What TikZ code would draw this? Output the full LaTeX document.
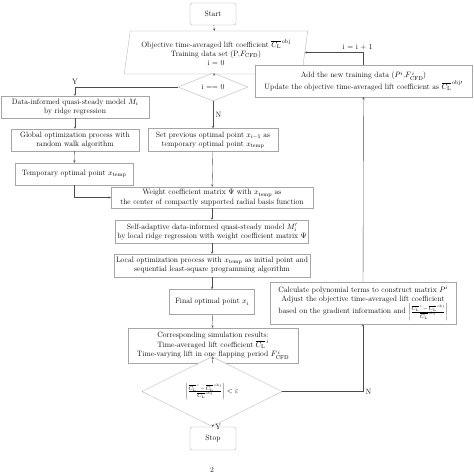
\documentclass[tikz,border=0pt]{standalone}
\usetikzlibrary{shapes.geometric}
\newcommand{\clbar}[1]{\overline{C_{\mathrm{L}}}^{#1}}
\begin{document}
\begin{tikzpicture}[x=0.5mm, y=-0.5mm, >=stealth,
  every node/.style={font=\fontsize{11}{13}\selectfont},
  box/.style={draw=gray!70, fill=white, align=center, inner sep=2.5pt},
  term/.style={box, rounded corners=3pt},
  ask/.style={box, diamond, inner sep=0pt},
  line/.style={->, draw=black!70, line width=0.5pt}]
  \useasboundingbox (0,0) rectangle (474,476);
  \node[term,minimum width=23mm,minimum height=11mm] (start) at (213,14) {Start};
  \node[box,trapezium,trapezium left angle=80,trapezium right angle=100,trapezium stretches=true,minimum width=92mm,minimum height=21.5mm] (input) at (216,52.5) {Objective time-averaged lift coefficient $\clbar{\,\mathrm{obj}}$\\ Training data set (P,$F_{\mathrm{CFD}}$)\\ i = 0};
  \node[ask,minimum width=35mm,minimum height=11mm] (first) at (213,87) {i == 0};
  \node[box,minimum width=74mm,minimum height=11mm] (model) at (75,107) {Data-informed quasi-steady model $M_i$\\ by ridge regression};
  \node[box,minimum width=64mm,minimum height=11mm] (global) at (75,140) {Global optimization process with\\ random walk algorithm};
  \node[box,minimum width=59mm,minimum height=11mm] (temp) at (74,174) {Temporary optimal point $x_{\mathrm{temp}}$};
  \node[box,minimum width=65mm,minimum height=11.5mm] (prev) at (213,140) {Set previous optimal point $x_{i-1}$ as\\ temporary optimal point $x_{\mathrm{temp}}$};
  \node[box,minimum width=101mm,minimum height=10.5mm] (weight) at (212,197.5) {Weight coefficient matrix $\Psi$ with $x_{\mathrm{temp}}$ as\\ the center of compactly supported radial basis function};
  \node[box,minimum width=95mm,minimum height=11.5mm] (adapt) at (212,231.5) {Self-adaptive data-informed quasi-steady model $M_i'$\\ by local ridge regression with weight coefficient matrix $\Psi$};
  \node[box,minimum width=96mm,minimum height=11.5mm] (local) at (212,265.5) {Local optimization process with $x_{\mathrm{temp}}$ as initial point and\\ sequential least-square programming algorithm};
  \node[box,minimum width=42.5mm,minimum height=12.5mm] (final) at (212,302) {Final optimal point $x_i$};
  \node[box,minimum width=85mm,minimum height=17.5mm] (sim) at (213,345.5) {Corresponding simulation results:\\ Time-averaged lift coefficient $\clbar{\,i}$\\ Time-varying lift in one flapping period $F^{\,i}_{\mathrm{CFD}}$};
  \node[ask,minimum width=70mm,minimum height=18mm] (check) at (212,391.5) {$\left|\frac{\clbar{\,i}\,-\,\clbar{\,\mathrm{obj}}}{\mathstrut\clbar{\,\mathrm{obj}}}\right| < \varepsilon$};
  \node[term,minimum width=23mm,minimum height=11.5mm] (stop) at (213,438.5) {Stop};
  \node[box,minimum width=93mm,minimum height=21mm] (calc) at (363,303) {Calculate polynomial terms to construct matrix $P^i$\\ Adjust the objective time-averaged lift coefficient\\ based on the gradient information and $\left|\frac{\clbar{\,i}\,-\,\clbar{\,\mathrm{obj}}}{\mathstrut\clbar{\,\mathrm{obj}}}\right|$};
  \node[box,minimum width=108.5mm,minimum height=16mm] (add) at (363.5,81) {Add the new training data ($P^i$,$F^{\,i}_{\mathrm{CFD}}$)\\ Update the objective time-averaged lift coefficient as $\clbar{\,\mathrm{obj}\prime}$};
  \node (page) at (212,470) {2};
  \draw[line] (start) -- (input);
  \draw[line] (input) -- (first);
  \draw[line] (first.west) -| node[pos=0.5,above] {Y} (model.north);
  \draw[line] (first) -- node[right] {N} (prev);
  \draw[line] (model) -- (global);
  \draw[line] (global) -- (temp);
  \draw[line] (temp.south) |- (weight.west);
  \draw[line] (prev) -- (weight);
  \draw[line] (weight) -- (adapt);
  \draw[line] (adapt) -- (local);
  \draw[line] (local) -- (final);
  \draw[line] (final) -- (sim);
  \draw[line] (sim) -- (check);
  \draw[line] (check) -- node[pos=0.4,right] {Y} (stop);
  \draw[line] (check.east) -| node[pos=0.5,right] {N} (calc.south);
  \draw[line] (calc) -- (add);
  \draw[line] (add.north) |- node[pos=0.55,above] {i = i + 1} (input.east);
\end{tikzpicture}
\end{document}
